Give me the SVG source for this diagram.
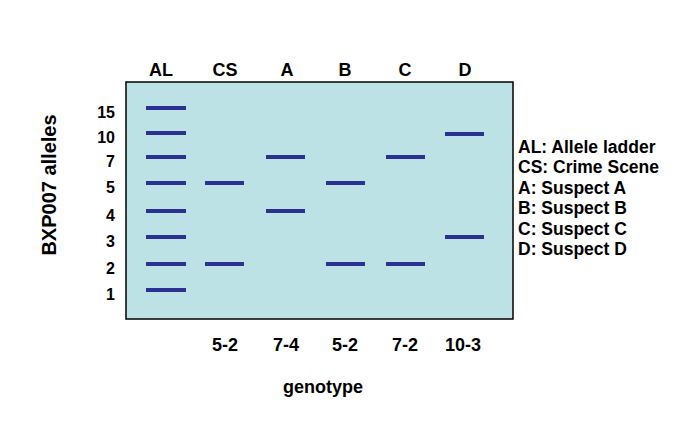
<svg xmlns="http://www.w3.org/2000/svg" width="674" height="421" viewBox="0 0 674 421">
<style>
text{font-family:"Liberation Sans",Arial,sans-serif;font-weight:bold;fill:#000}
.c{font-size:18px;text-anchor:middle}
.y{font-size:16px;text-anchor:end}
.g{font-size:18px;text-anchor:middle}
.l{font-size:17.5px}
.b{stroke:#2B3192;stroke-width:4}
</style>
<rect width="674" height="421" fill="#fff"/>
<g id="gel"><rect x="126" y="82" width="387" height="237" fill="#BCE2E6" stroke="#000" stroke-width="1.5"/></g>
<g id="columns">
<text class="c" x="161" y="76">AL</text><text class="c" x="225" y="76">CS</text><text class="c" x="287" y="76">A</text><text class="c" x="345" y="76">B</text><text class="c" x="405" y="76">C</text><text class="c" x="465" y="76">D</text>
</g>
<g id="yaxis">
<text class="y" x="115" y="118">15</text><text class="y" x="115" y="143">10</text><text class="y" x="115" y="167">7</text><text class="y" x="115" y="193">5</text><text class="y" x="115" y="221">4</text><text class="y" x="115" y="247">3</text><text class="y" x="115" y="274">2</text><text class="y" x="115" y="300">1</text>
<text transform="translate(56,185) rotate(-90)" font-size="20" text-anchor="middle">BXP007 alleles</text>
</g>
<g id="bands">
<line class="b" x1="146" x2="186" y1="108" y2="108"/><line class="b" x1="146" x2="186" y1="133" y2="133"/><line class="b" x1="146" x2="186" y1="157" y2="157"/><line class="b" x1="146" x2="186" y1="183" y2="183"/><line class="b" x1="146" x2="186" y1="211" y2="211"/><line class="b" x1="146" x2="186" y1="237" y2="237"/><line class="b" x1="146" x2="186" y1="264" y2="264"/><line class="b" x1="146" x2="186" y1="290" y2="290"/>
<line class="b" x1="205" x2="244" y1="183" y2="183"/><line class="b" x1="205" x2="244" y1="264" y2="264"/>
<line class="b" x1="266" x2="305" y1="157" y2="157"/><line class="b" x1="266" x2="305" y1="211" y2="211"/>
<line class="b" x1="326" x2="365" y1="183" y2="183"/><line class="b" x1="326" x2="365" y1="264" y2="264"/>
<line class="b" x1="386" x2="425" y1="157" y2="157"/><line class="b" x1="386" x2="425" y1="264" y2="264"/>
<line class="b" x1="445" x2="484" y1="134" y2="134"/><line class="b" x1="445" x2="484" y1="237" y2="237"/>
</g>
<g id="genotypes">
<text class="g" x="225" y="351">5-2</text><text class="g" x="286" y="351">7-4</text><text class="g" x="345" y="351">5-2</text><text class="g" x="405" y="351">7-2</text><text class="g" x="463" y="351">10-3</text>
<text class="g" x="323" y="393" font-size="20">genotype</text>
</g>
<g id="legend">
<text class="l" x="518" y="153">AL: Allele ladder</text><text class="l" x="518" y="173">CS: Crime Scene</text><text class="l" x="518" y="194">A: Suspect A</text><text class="l" x="518" y="214">B: Suspect B</text><text class="l" x="518" y="235">C: Suspect C</text><text class="l" x="518" y="255">D: Suspect D</text>
</g>
</svg>
